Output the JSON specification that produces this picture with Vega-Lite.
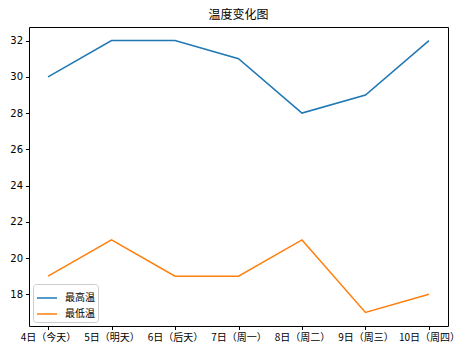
{
  "$schema": "https://vega.github.io/schema/vega-lite/v6.json",
  "width": 419,
  "height": 299,
  "autosize": {"type": "none"},
  "padding": {"left": 29, "top": 27, "right": 26, "bottom": 29},
  "background": "white",
  "title": {"text": "温度变化图", "font": "Noto Sans CJK SC", "fontSize": 12, "fontWeight": "normal", "color": "black", "offset": 5},
  "config": {
    "view": {"stroke": "black", "strokeWidth": 1},
    "axis": {"domain": false, "grid": false, "tickColor": "black", "tickSize": 3.5, "labelColor": "black", "labelFontSize": 10, "labelFont": "Noto Sans CJK SC", "labelPadding": 3}
  },
  "data": {"values": [
    {"day": "4日（今天）", "type": "最高温", "temp": 30},
    {"day": "5日（明天）", "type": "最高温", "temp": 32},
    {"day": "6日（后天）", "type": "最高温", "temp": 32},
    {"day": "7日（周一）", "type": "最高温", "temp": 31},
    {"day": "8日（周二）", "type": "最高温", "temp": 28},
    {"day": "9日（周三）", "type": "最高温", "temp": 29},
    {"day": "10日（周四）", "type": "最高温", "temp": 32},
    {"day": "4日（今天）", "type": "最低温", "temp": 19},
    {"day": "5日（明天）", "type": "最低温", "temp": 21},
    {"day": "6日（后天）", "type": "最低温", "temp": 19},
    {"day": "7日（周一）", "type": "最低温", "temp": 19},
    {"day": "8日（周二）", "type": "最低温", "temp": 21},
    {"day": "9日（周三）", "type": "最低温", "temp": 17},
    {"day": "10日（周四）", "type": "最低温", "temp": 18}
  ]},
  "mark": {"type": "line", "strokeWidth": 1.5},
  "encoding": {
    "x": {"field": "day", "type": "ordinal", "sort": null, "scale": {"type": "point", "padding": 0.3}, "axis": {"title": null, "labelAngle": 0}},
    "y": {"field": "temp", "type": "quantitative", "scale": {"domain": [16.25, 32.75], "nice": false, "zero": false}, "axis": {"title": null, "values": [18, 20, 22, 24, 26, 28, 30, 32], "labelFont": "DejaVu Sans"}},
    "color": {"field": "type", "type": "nominal", "sort": ["最高温", "最低温"], "scale": {"domain": ["最高温", "最低温"], "range": ["#1f77b4", "#ff7f0e"]},
      "legend": {"title": null, "orient": "bottom-left", "offset": 4, "symbolType": "stroke", "symbolStrokeWidth": 1.5, "symbolSize": 400, "labelFont": "Noto Sans CJK SC", "labelFontSize": 10, "labelColor": "black", "labelOffset": 7, "fillColor": "white", "strokeColor": "#cccccc", "cornerRadius": 3, "padding": 3, "rowPadding": -6}}
  }
}
